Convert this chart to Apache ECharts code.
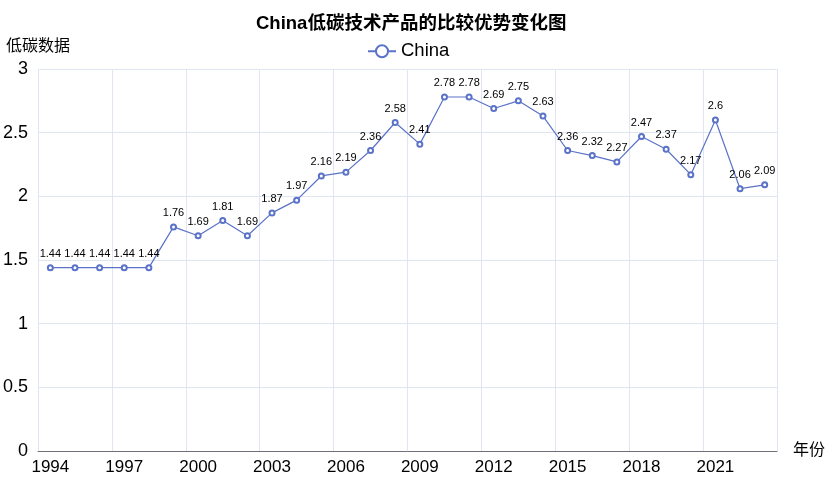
<!DOCTYPE html>
<html><head><meta charset="utf-8">
<script src="https://cdn.jsdelivr.net/npm/echarts@6/dist/echarts.min.js"></script>
<style>html,body{margin:0;padding:0;background:#fff}#c{width:832px;height:492px}</style>
</head><body><div id="c"></div>
<script>
const years = ['1994','1995','1996','1997','1998','1999','2000','2001','2002','2003','2004','2005','2006','2007','2008','2009','2010','2011','2012','2013','2014','2015','2016','2017','2018','2019','2020','2021','2022','2023'];
const chinaValues = [1.44,1.44,1.44,1.44,1.44,1.76,1.69,1.81,1.69,1.87,1.97,2.16,2.19,2.36,2.58,2.41,2.78,2.78,2.69,2.75,2.63,2.36,2.32,2.27,2.47,2.37,2.17,2.6,2.06,2.09];
const seriesName = 'China';
const chartTitle = 'China低碳技术产品的比较优势变化图';
const font = 'Liberation Sans, Arial, "Noto Sans CJK SC", sans-serif';
const chart = echarts.init(document.getElementById('c'));
chart.setOption({
  animation: false,
  textStyle: {fontFamily: font},
  title: {text: chartTitle, left: 251, top: 10, textStyle: {fontSize: 18.5, fontWeight: 'bold', color: '#000', fontFamily: font}},
  legend: {data: [seriesName], left: 362, top: 37, itemWidth: 28, itemHeight: 15, itemGap: 6, textStyle: {fontSize: 18.5, color: '#000', fontFamily: font}},
  grid: {left: 37, right: 55, top: 69, bottom: 41, containLabel: false},
  xAxis: {
    type: 'category', data: years, boundaryGap: true,
    name: '年份', nameLocation: 'end', nameGap: 16,
    nameTextStyle: {fontSize: 16, color: '#000', fontFamily: font, verticalAlign: 'middle'},
    axisLine: {lineStyle: {color: '#6E7079'}},
    axisTick: {interval: 2, lineStyle: {color: '#6E7079'}},
    axisLabel: {interval: 2, fontSize: 17, color: '#000', margin: 8, fontFamily: font},
    splitLine: {show: true, interval: 2, lineStyle: {color: '#E0E6F1'}}
  },
  yAxis: {
    type: 'value', min: 0, max: 3, interval: 0.5,
    name: '低碳数据', nameLocation: 'end', nameGap: 14,
    nameTextStyle: {fontSize: 16, color: '#000', fontFamily: font, align: 'center'},
    axisLine: {show: false}, axisTick: {show: false},
    axisLabel: {fontSize: 18, color: '#000', margin: 10, fontFamily: font},
    splitLine: {lineStyle: {color: '#E0E6F1'}}
  },
  series: [{
    name: seriesName, type: 'line', data: chinaValues,
    symbol: 'emptyCircle', symbolSize: 5,
    itemStyle: {color: '#5a72c8'},
    lineStyle: {width: 1.2, color: '#5a72c8'},
    label: {show: true, position: 'top', fontSize: 11, color: '#000', distance: 5, fontFamily: font}
  }]
});
</script></body></html>
